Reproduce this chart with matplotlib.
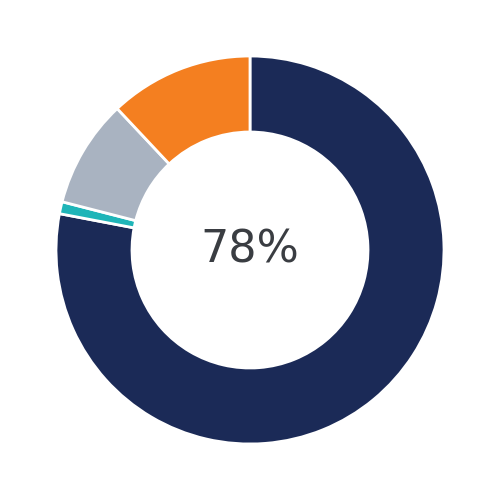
import matplotlib.pyplot as plt

labels = ['Navy', 'Teal', 'Grey', 'Orange']
values = [78, 1, 9, 12]
colors = ['#1b2a57', '#1fb5b8', '#a9b3c1', '#f47f20']

fig, ax = plt.subplots(figsize=(5, 5), dpi=100)
ax.pie(values, colors=colors, startangle=90, counterclock=False,
       radius=0.97, wedgeprops=dict(width=0.38, edgecolor='white', linewidth=2))
ax.text(0, 0, '78%', ha='center', va='center', fontsize=32, color='#3a3d42')
ax.set_aspect('equal')
fig.subplots_adjust(left=0, right=1, top=1, bottom=0)
fig.savefig('out.png')
